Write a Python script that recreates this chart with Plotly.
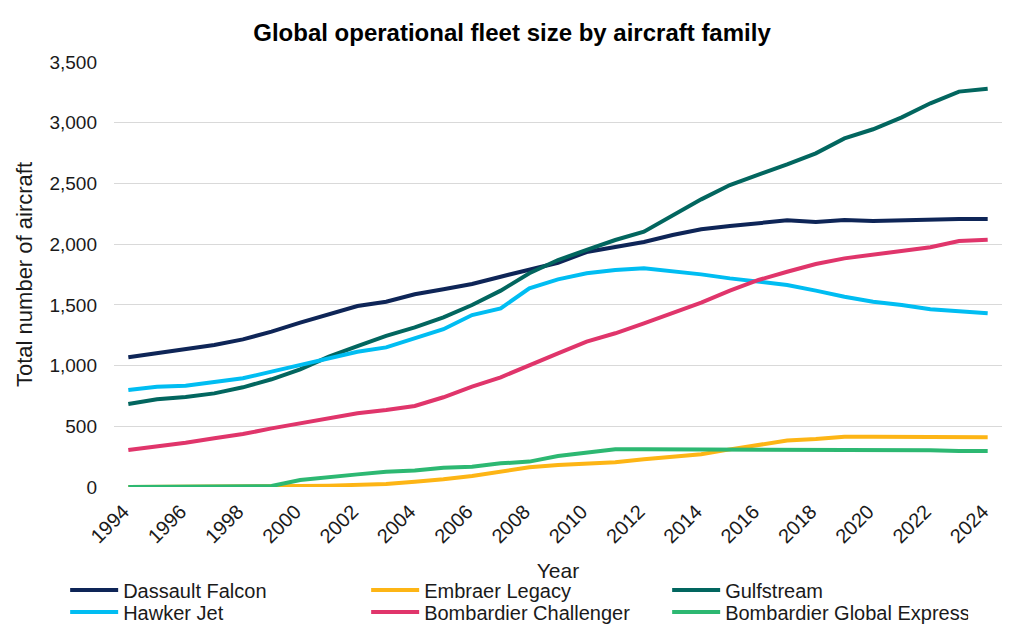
import plotly.graph_objects as go

years = list(range(1994, 2025))

dassault_falcon = [1068, 1101, 1128, 1169, 1216, 1279, 1353, 1425, 1490, 1526, 1587, 1628, 1672, 1732, 1787, 1847,
                   1935, 1974, 2018, 2075, 2122, 2149, 2171, 2196, 2182, 2199, 2191, 2199, 2204, 2207, 2207]
embraer_legacy = [0, 0, 0, 0, 0, 0, 8, 11, 16, 25, 44, 63, 91, 126, 162, 181,
                  189, 203, 228, 250, 269, 310, 346, 382, 395, 414, 414, 414, 414, 412, 409]
gulfstream = [684, 722, 741, 771, 821, 887, 969, 1073, 1161, 1244, 1315, 1397, 1499, 1617, 1760, 1869,
              1952, 2034, 2103, 2240, 2369, 2487, 2569, 2657, 2748, 2871, 2946, 3044, 3160, 3256, 3280]
hawker_jet = [799, 826, 834, 862, 895, 950, 1005, 1060, 1114, 1150, 1224, 1299, 1416, 1471, 1636, 1710,
              1760, 1787, 1801, 1779, 1751, 1718, 1691, 1664, 1617, 1567, 1526, 1499, 1463, 1444, 1430]
bombardier_challenger = [305, 332, 365, 401, 436, 483, 524, 565, 607, 634, 667, 739, 826, 903, 1005, 1101,
                         1197, 1266, 1348, 1430, 1518, 1617, 1705, 1773, 1836, 1883, 1911, 1938, 1974, 2026, 2037]
bombardier_global_express = [0, 0, 0, 0, 0, 8, 58, 85, 104, 126, 135, 159, 167, 195, 209, 255,
                             283, 310, 310, 310, 310, 310, 310, 310, 305, 305, 302, 302, 302, 297, 297]

series = [
    ("Dassault Falcon", dassault_falcon, "#0E2557", "legend"),
    ("Embraer Legacy", embraer_legacy, "#FDB515", "legend"),
    ("Gulfstream", gulfstream, "#02665F", "legend"),
    ("Hawker Jet", hawker_jet, "#00BDF2", "legend2"),
    ("Bombardier Challenger", bombardier_challenger, "#E0356B", "legend2"),
    ("Bombardier Global Express", bombardier_global_express, "#2DB872", "legend2"),
]

tick_years = list(range(1994, 2025, 2))
tick_text = [str(y) for y in tick_years]

FONT = "Liberation Sans"

fig = go.Figure()
for name, vals, col, lg in series:
    fig.add_trace(go.Scatter(x=years, y=vals, mode="lines", name=name, legend=lg,
                             line=dict(color=col, width=4)))

legend_common = dict(orientation="h", xref="paper", yref="paper",
                     x=-0.055, xanchor="left", yanchor="middle",
                     entrywidth=238, entrywidthmode="pixels", itemwidth=48,
                     font=dict(size=20, color="#1a1a1a"), tracegroupgap=0,
                     bgcolor="rgba(0,0,0,0)")

fig.update_layout(
    width=1024, height=630,
    margin=dict(l=114, r=22, t=62, b=143, autoexpand=False),
    paper_bgcolor="white", plot_bgcolor="white",
    font=dict(family=FONT, size=18, color="#1a1a1a"),
    title=dict(text="<b>Global operational fleet size by aircraft family</b>",
               x=0.5, xanchor="center", y=0.948, yanchor="middle",
               font=dict(family=FONT, size=24, color="black")),
    xaxis=dict(range=[1993.5, 2024.5], tickvals=tick_years, ticktext=tick_text,
               tickangle=-45, showgrid=False, zeroline=False, showline=False,
               ticks="", tickfont=dict(size=20), ticklabelstandoff=8, ticklabelshift=-5,
               title=dict(text="Year", font=dict(size=21), standoff=16)),
    yaxis=dict(range=[0, 3500], dtick=500, tickformat=",", showgrid=True,
               gridcolor="#D9D9D9", gridwidth=1, zeroline=False, showline=False,
               ticks="", tickfont=dict(size=19), ticklabelstandoff=16,
               title=dict(text="Total number of aircraft", font=dict(size=22), standoff=10)),
    legend=dict(legend_common, y=-0.2424),
    legend2=dict(legend_common, y=-0.294),
    showlegend=True,
)

fig.write_html("out.html")
